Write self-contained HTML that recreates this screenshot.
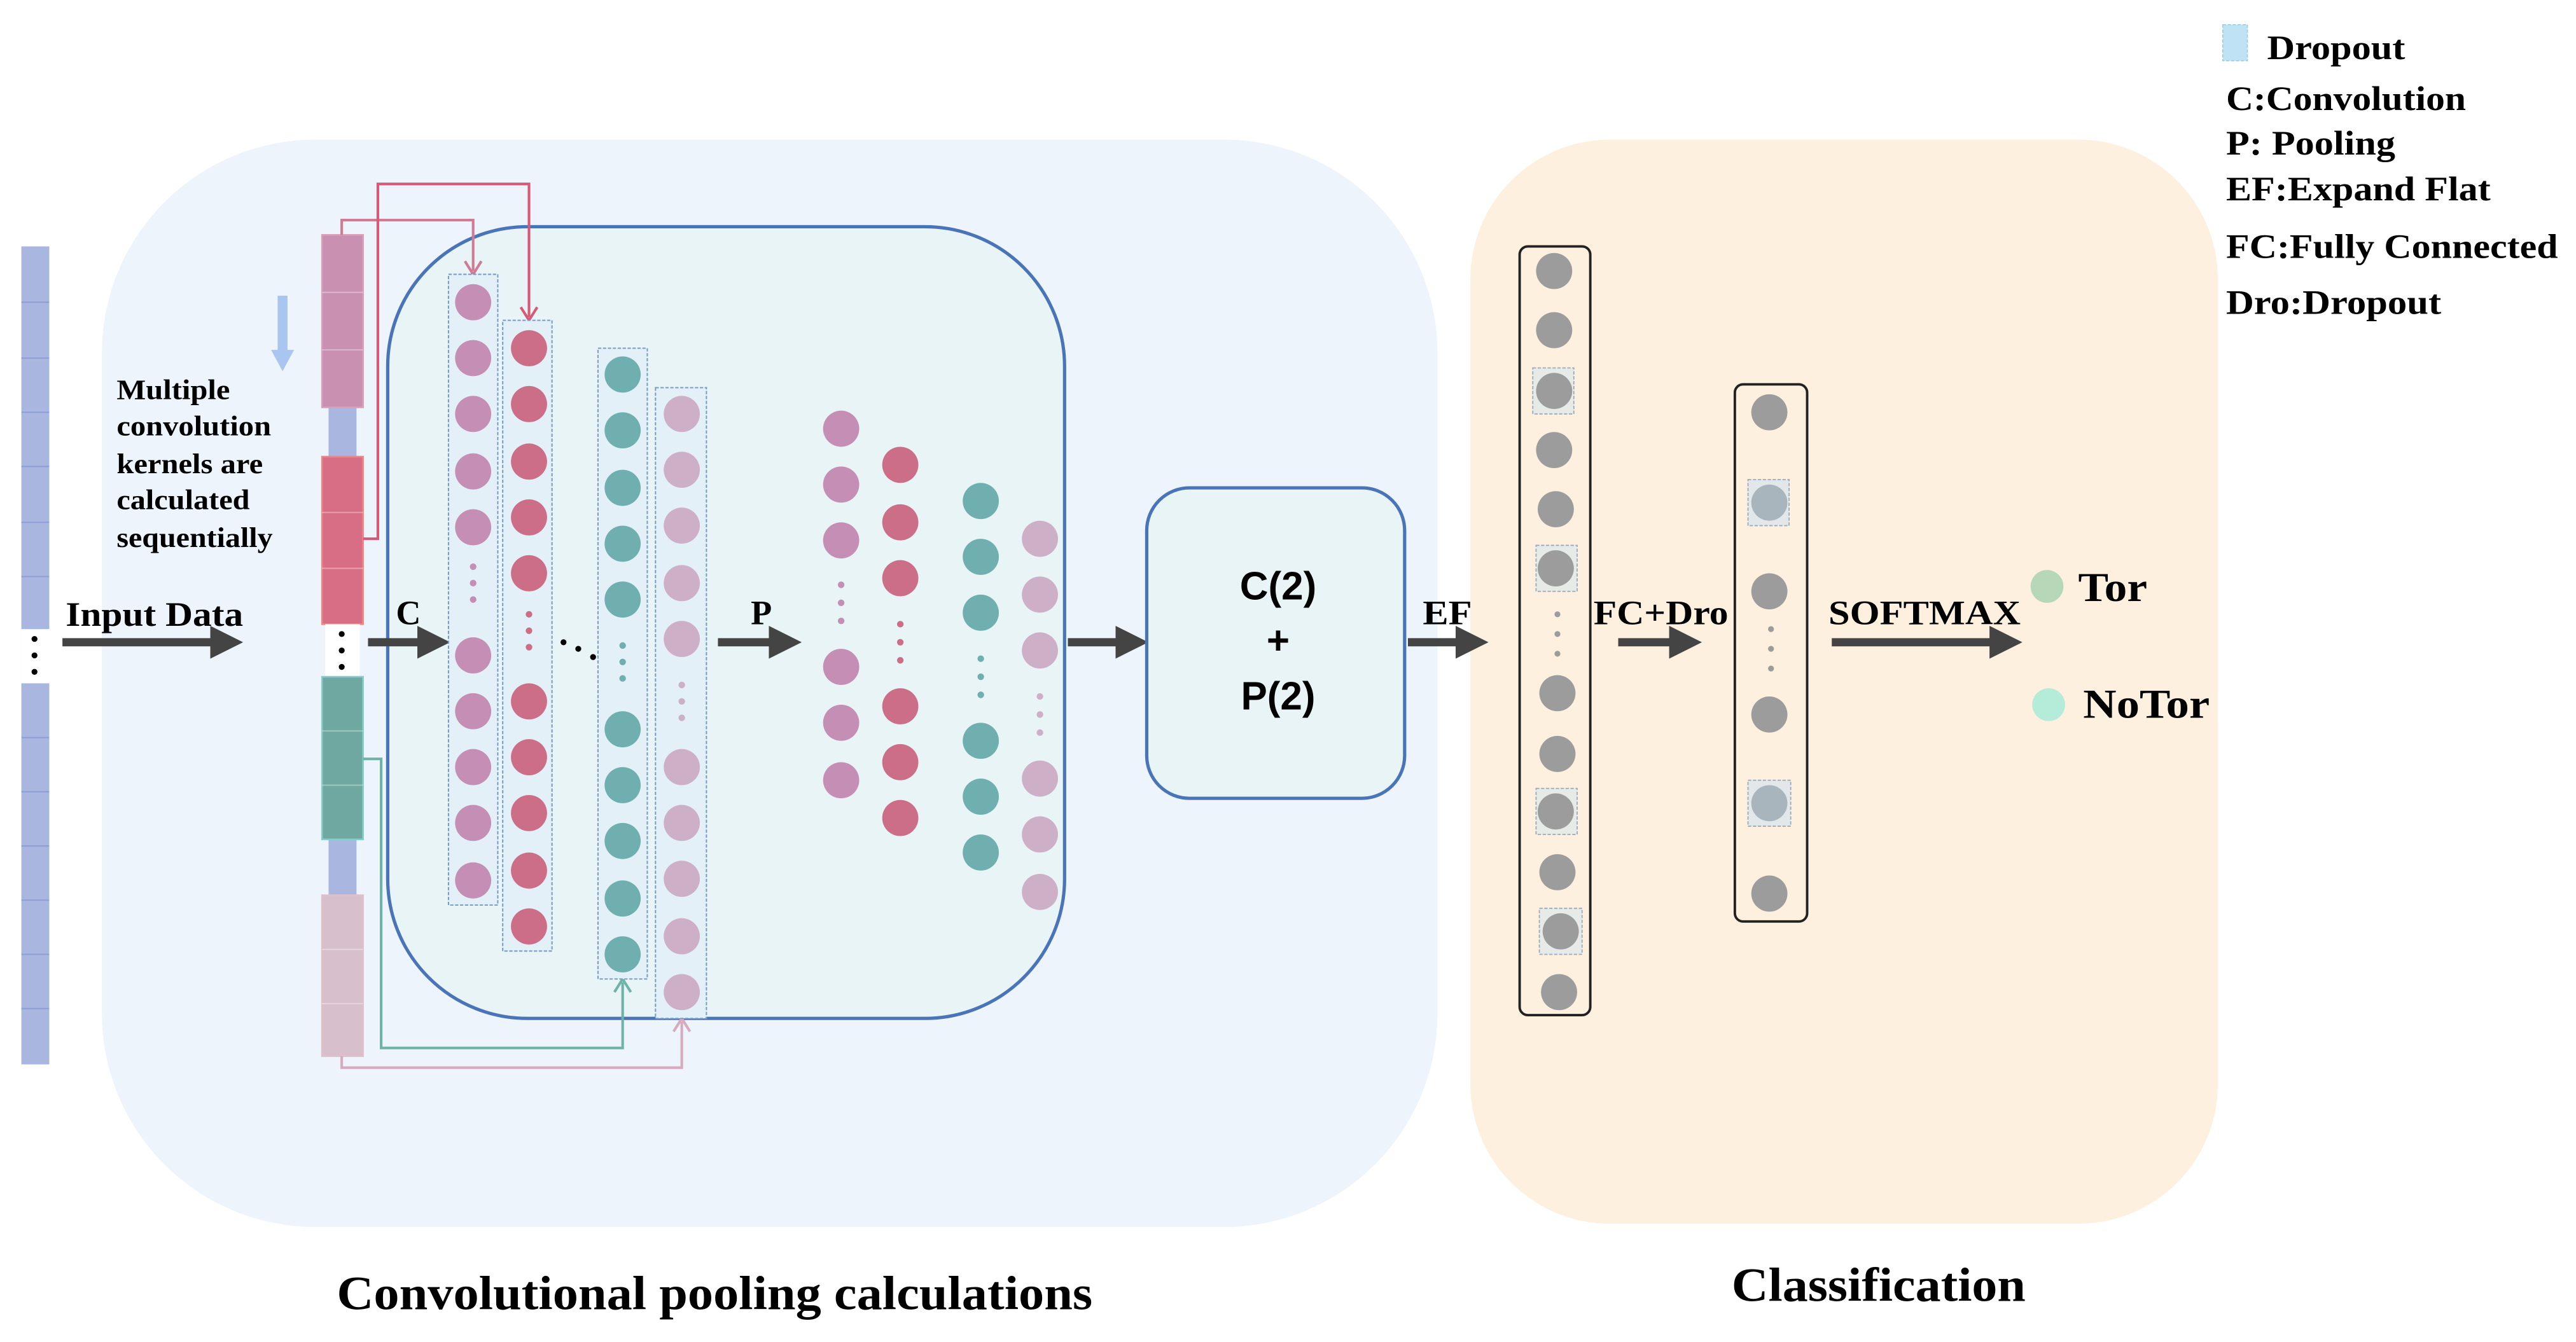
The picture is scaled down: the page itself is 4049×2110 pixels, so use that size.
<!DOCTYPE html>
<html><head><meta charset="utf-8"><style>html,body{margin:0;padding:0;background:#fff}svg{display:block}</style></head>
<body>
<svg width="4049" height="2110" viewBox="0 0 1568 817" preserveAspectRatio="none" xmlns="http://www.w3.org/2000/svg" font-family="Liberation Serif, serif" font-weight="bold">
<defs>
<marker id="ah" markerWidth="4" markerHeight="4" refX="2" refY="2" orient="auto" markerUnits="strokeWidth"><path d="M0,0 L4,2 L0,4 z" fill="#444"/></marker>
</defs>
<rect x="62" y="85" width="813" height="662" rx="130" fill="#edf4fb"/>
<rect x="895" y="85" width="455" height="660" rx="85" fill="#fdf0de"/>

<!-- input bar -->
<rect x="13" y="150" width="17" height="498" fill="#a9b6e0"/>
<g stroke="#8e9ed4" stroke-width="0.8">
<line x1="13" y1="184" x2="30" y2="184"/><line x1="13" y1="218" x2="30" y2="218"/><line x1="13" y1="251" x2="30" y2="251"/><line x1="13" y1="284" x2="30" y2="284"/><line x1="13" y1="318" x2="30" y2="318"/><line x1="13" y1="351" x2="30" y2="351"/>
<line x1="13" y1="449" x2="30" y2="449"/><line x1="13" y1="482" x2="30" y2="482"/><line x1="13" y1="515" x2="30" y2="515"/><line x1="13" y1="548" x2="30" y2="548"/><line x1="13" y1="581" x2="30" y2="581"/><line x1="13" y1="614" x2="30" y2="614"/>
</g>
<rect x="13" y="383" width="17" height="33" fill="#fff"/>
<circle cx="21" cy="389" r="1.8" fill="#000"/><circle cx="21" cy="399" r="1.8" fill="#000"/><circle cx="21" cy="409" r="1.8" fill="#000"/>

<text x="40" y="381" font-size="21" textLength="108" lengthAdjust="spacingAndGlyphs">Input Data</text>
<line x1="38" y1="391" x2="138" y2="391" stroke="#444" stroke-width="5" marker-end="url(#ah)"/>

<rect x="169" y="180" width="6" height="35" fill="#a8c6ef"/>
<path d="M165,213 L179,213 L172,226 z" fill="#a8c6ef"/>
<g font-size="17">
<text x="71" y="243" textLength="69" lengthAdjust="spacingAndGlyphs">Multiple</text>
<text x="71" y="265" textLength="94" lengthAdjust="spacingAndGlyphs">convolution</text>
<text x="71" y="288" textLength="89" lengthAdjust="spacingAndGlyphs">kernels are</text>
<text x="71" y="310" textLength="81" lengthAdjust="spacingAndGlyphs">calculated</text>
<text x="71" y="333" textLength="95" lengthAdjust="spacingAndGlyphs">sequentially</text>
</g>

<rect x="236" y="138" width="412" height="482" rx="85" fill="#e8f4f6" stroke="#4a74b8" stroke-width="2"/>

<!-- kernel column -->
<rect x="200" y="143" width="17" height="500" fill="#a9b6e0"/>
<rect x="196" y="143" width="25" height="105" fill="#c990b2" stroke="#d9a0b8"/>
<rect x="196" y="278" width="25" height="102" fill="#d86e85" stroke="#e88"/>
<rect x="198" y="380" width="21" height="32" fill="#fff"/>
<circle cx="208" cy="386" r="1.8" fill="#000"/><circle cx="208" cy="396" r="1.8" fill="#000"/><circle cx="208" cy="406" r="1.8" fill="#000"/>
<rect x="196" y="412" width="25" height="99" fill="#6fa8a0" stroke="#8cc"/>
<rect x="196" y="545" width="25" height="98" fill="#d7bfcc" stroke="#e0c0c8"/>
<g stroke="#fff" stroke-opacity="0.35" stroke-width="0.8">
<line x1="196" y1="178" x2="221" y2="178"/><line x1="196" y1="213" x2="221" y2="213"/><line x1="196" y1="312" x2="221" y2="312"/><line x1="196" y1="346" x2="221" y2="346"/><line x1="196" y1="445" x2="221" y2="445"/><line x1="196" y1="478" x2="221" y2="478"/><line x1="196" y1="578" x2="221" y2="578"/><line x1="196" y1="611" x2="221" y2="611"/>
</g>

<g fill="none" stroke-width="1.6">
<polyline points="208,143 208,134 288,134 288,165" stroke="#d07a95"/>
<polyline points="221,328 230,328 230,112 322,112 322,193" stroke="#d65a75"/>
<polyline points="221,462 232,462 232,638 379,638 379,598" stroke="#6fb3a8"/>
<polyline points="208,643 208,650 415,650 415,622" stroke="#d8aabf"/>
</g>
<path d="M283,159 L288,167 L293,159" fill="none" stroke="#d07a95" stroke-width="1.6"/>
<path d="M317,187 L322,195 L327,187" fill="none" stroke="#d65a75" stroke-width="1.6"/>
<path d="M374,604 L379,596 L384,604" fill="none" stroke="#6fb3a8" stroke-width="1.6"/>
<path d="M410,628 L415,620 L420,628" fill="none" stroke="#d8aabf" stroke-width="1.6"/>

<text x="241" y="380" font-size="21">C</text>
<line x1="224" y1="391" x2="264" y2="391" stroke="#444" stroke-width="5" marker-end="url(#ah)"/>

<g fill="#e3f0f8" stroke="#7a9cc8" stroke-width="0.8" stroke-dasharray="2,1">
<rect x="273" y="167" width="30" height="384"/>
<rect x="306" y="195" width="30" height="384"/>
<rect x="364" y="212" width="30" height="384"/>
<rect x="399" y="236" width="31" height="384"/>
</g>
<g fill="#c58fb5">
<circle cx="288" cy="184" r="11"/><circle cx="288" cy="218" r="11"/><circle cx="288" cy="252" r="11"/><circle cx="288" cy="287" r="11"/><circle cx="288" cy="321" r="11"/>
<circle cx="288" cy="399" r="11"/><circle cx="288" cy="433" r="11"/><circle cx="288" cy="467" r="11"/><circle cx="288" cy="501" r="11"/><circle cx="288" cy="536" r="11"/>
<circle cx="288" cy="345" r="2"/><circle cx="288" cy="355" r="2"/><circle cx="288" cy="365" r="2"/>
</g>
<g fill="#cc6e88">
<circle cx="322" cy="212" r="11"/><circle cx="322" cy="246" r="11"/><circle cx="322" cy="281" r="11"/><circle cx="322" cy="315" r="11"/><circle cx="322" cy="349" r="11"/>
<circle cx="322" cy="427" r="11"/><circle cx="322" cy="461" r="11"/><circle cx="322" cy="495" r="11"/><circle cx="322" cy="530" r="11"/><circle cx="322" cy="564" r="11"/>
<circle cx="322" cy="374" r="2"/><circle cx="322" cy="384" r="2"/><circle cx="322" cy="394" r="2"/>
</g>
<g fill="#6fafaf">
<circle cx="379" cy="228" r="11"/><circle cx="379" cy="262" r="11"/><circle cx="379" cy="297" r="11"/><circle cx="379" cy="331" r="11"/><circle cx="379" cy="365" r="11"/>
<circle cx="379" cy="444" r="11"/><circle cx="379" cy="478" r="11"/><circle cx="379" cy="512" r="11"/><circle cx="379" cy="547" r="11"/><circle cx="379" cy="581" r="11"/>
<circle cx="379" cy="393" r="2"/><circle cx="379" cy="403" r="2"/><circle cx="379" cy="413" r="2"/>
</g>
<g fill="#cdb0c8">
<circle cx="415" cy="252" r="11"/><circle cx="415" cy="286" r="11"/><circle cx="415" cy="320" r="11"/><circle cx="415" cy="355" r="11"/><circle cx="415" cy="389" r="11"/>
<circle cx="415" cy="467" r="11"/><circle cx="415" cy="501" r="11"/><circle cx="415" cy="535" r="11"/><circle cx="415" cy="570" r="11"/><circle cx="415" cy="604" r="11"/>
<circle cx="415" cy="417" r="2"/><circle cx="415" cy="427" r="2"/><circle cx="415" cy="437" r="2"/>
</g>
<circle cx="343" cy="391" r="1.8" fill="#000"/><circle cx="352" cy="395" r="1.8" fill="#000"/><circle cx="361" cy="400" r="1.8" fill="#000"/>

<text x="457" y="380" font-size="21">P</text>
<line x1="437" y1="391" x2="478" y2="391" stroke="#444" stroke-width="5" marker-end="url(#ah)"/>

<g fill="#c58fb5"><circle cx="512" cy="261" r="11"/><circle cx="512" cy="295" r="11"/><circle cx="512" cy="329" r="11"/><circle cx="512" cy="406" r="11"/><circle cx="512" cy="440" r="11"/><circle cx="512" cy="475" r="11"/><circle cx="512" cy="356" r="2"/><circle cx="512" cy="367" r="2"/><circle cx="512" cy="378" r="2"/></g>
<g fill="#cc6e88"><circle cx="548" cy="283" r="11"/><circle cx="548" cy="318" r="11"/><circle cx="548" cy="352" r="11"/><circle cx="548" cy="430" r="11"/><circle cx="548" cy="464" r="11"/><circle cx="548" cy="498" r="11"/><circle cx="548" cy="380" r="2"/><circle cx="548" cy="391" r="2"/><circle cx="548" cy="402" r="2"/></g>
<g fill="#6fafaf"><circle cx="597" cy="305" r="11"/><circle cx="597" cy="339" r="11"/><circle cx="597" cy="373" r="11"/><circle cx="597" cy="451" r="11"/><circle cx="597" cy="485" r="11"/><circle cx="597" cy="519" r="11"/><circle cx="597" cy="401" r="2"/><circle cx="597" cy="412" r="2"/><circle cx="597" cy="423" r="2"/></g>
<g fill="#cdb0c8"><circle cx="633" cy="328" r="11"/><circle cx="633" cy="362" r="11"/><circle cx="633" cy="396" r="11"/><circle cx="633" cy="474" r="11"/><circle cx="633" cy="508" r="11"/><circle cx="633" cy="543" r="11"/><circle cx="633" cy="424" r="2"/><circle cx="633" cy="435" r="2"/><circle cx="633" cy="446" r="2"/></g>

<line x1="650" y1="391" x2="689" y2="391" stroke="#444" stroke-width="5" marker-end="url(#ah)"/>
<rect x="698" y="297" width="157" height="189" rx="26" fill="#e8f4f6" stroke="#4a74b8" stroke-width="2"/>
<g font-family="Liberation Sans, sans-serif" font-size="24" text-anchor="middle">
<text x="778" y="365">C(2)</text><text x="778" y="398">+</text><text x="778" y="432">P(2)</text>
</g>

<text x="866" y="380" font-size="21" textLength="30" lengthAdjust="spacingAndGlyphs">EF</text>
<line x1="857" y1="391" x2="896" y2="391" stroke="#444" stroke-width="5" marker-end="url(#ah)"/>

<rect x="925" y="150" width="43" height="468" rx="5" fill="none" stroke="#222" stroke-width="1.5"/>
<g fill="#e6ebe8" stroke="#9ab" stroke-width="0.7" stroke-dasharray="2,1">
<rect x="933" y="224" width="25" height="28"/><rect x="935" y="332" width="25" height="28"/><rect x="935" y="480" width="25" height="28"/><rect x="937" y="553" width="26" height="28"/>
</g>
<g fill="#9c9c9c">
<circle cx="946" cy="165" r="11"/><circle cx="946" cy="201" r="11"/><circle cx="946" cy="238" r="11"/><circle cx="946" cy="274" r="11"/><circle cx="947" cy="310" r="11"/><circle cx="947" cy="346" r="11"/>
<circle cx="948" cy="422" r="11"/><circle cx="948" cy="459" r="11"/><circle cx="947" cy="494" r="11"/><circle cx="948" cy="531" r="11"/><circle cx="950" cy="567" r="11"/><circle cx="949" cy="604" r="11"/>
<circle cx="948" cy="374" r="1.8"/><circle cx="948" cy="386" r="1.8"/><circle cx="948" cy="398" r="1.8"/>
</g>

<text x="970" y="380" font-size="21" textLength="82" lengthAdjust="spacingAndGlyphs">FC+Dro</text>
<line x1="985" y1="391" x2="1026" y2="391" stroke="#444" stroke-width="5" marker-end="url(#ah)"/>

<rect x="1056" y="234" width="44" height="327" rx="5" fill="none" stroke="#222" stroke-width="1.5"/>
<g fill="#e2e8ea" stroke="#9ab" stroke-width="0.7" stroke-dasharray="2,1">
<rect x="1064" y="292" width="25" height="28"/><rect x="1064" y="475" width="26" height="28"/>
</g>
<g fill="#9c9c9c">
<circle cx="1077" cy="251" r="11"/><circle cx="1077" cy="360" r="11"/><circle cx="1077" cy="435" r="11"/><circle cx="1077" cy="544" r="11"/>
<circle cx="1078" cy="383" r="1.8"/><circle cx="1078" cy="395" r="1.8"/><circle cx="1078" cy="407" r="1.8"/>
</g>
<g fill="#a8b5bd"><circle cx="1077" cy="306" r="11"/><circle cx="1077" cy="489" r="11"/></g>

<text x="1113" y="380" font-size="21" textLength="117" lengthAdjust="spacingAndGlyphs">SOFTMAX</text>
<line x1="1115" y1="391" x2="1221" y2="391" stroke="#444" stroke-width="5" marker-end="url(#ah)"/>

<circle cx="1246" cy="357" r="10" fill="#b6d8b8"/>
<text x="1265" y="366" font-size="25" textLength="42" lengthAdjust="spacingAndGlyphs">Tor</text>
<circle cx="1247" cy="429" r="10" fill="#b5ecd9"/>
<text x="1268" y="437" font-size="25" textLength="77" lengthAdjust="spacingAndGlyphs">NoTor</text>

<rect x="1353" y="15" width="15" height="22" fill="#bfe2f5" stroke="#9cd" stroke-width="0.6" stroke-dasharray="2,1"/>
<g font-size="21">
<text x="1380" y="36" textLength="84" lengthAdjust="spacingAndGlyphs">Dropout</text>
<text x="1355" y="67" textLength="146" lengthAdjust="spacingAndGlyphs">C:Convolution</text>
<text x="1355" y="94" textLength="103" lengthAdjust="spacingAndGlyphs">P: Pooling</text>
<text x="1355" y="122" textLength="161" lengthAdjust="spacingAndGlyphs">EF:Expand Flat</text>
<text x="1355" y="157" textLength="202" lengthAdjust="spacingAndGlyphs">FC:Fully Connected</text>
<text x="1355" y="191" textLength="131" lengthAdjust="spacingAndGlyphs">Dro:Dropout</text>
</g>

<text x="205" y="797" font-size="29" textLength="460" lengthAdjust="spacingAndGlyphs">Convolutional pooling calculations</text>
<text x="1054" y="792" font-size="29" textLength="179" lengthAdjust="spacingAndGlyphs">Classification</text>
</svg>
</body></html>
